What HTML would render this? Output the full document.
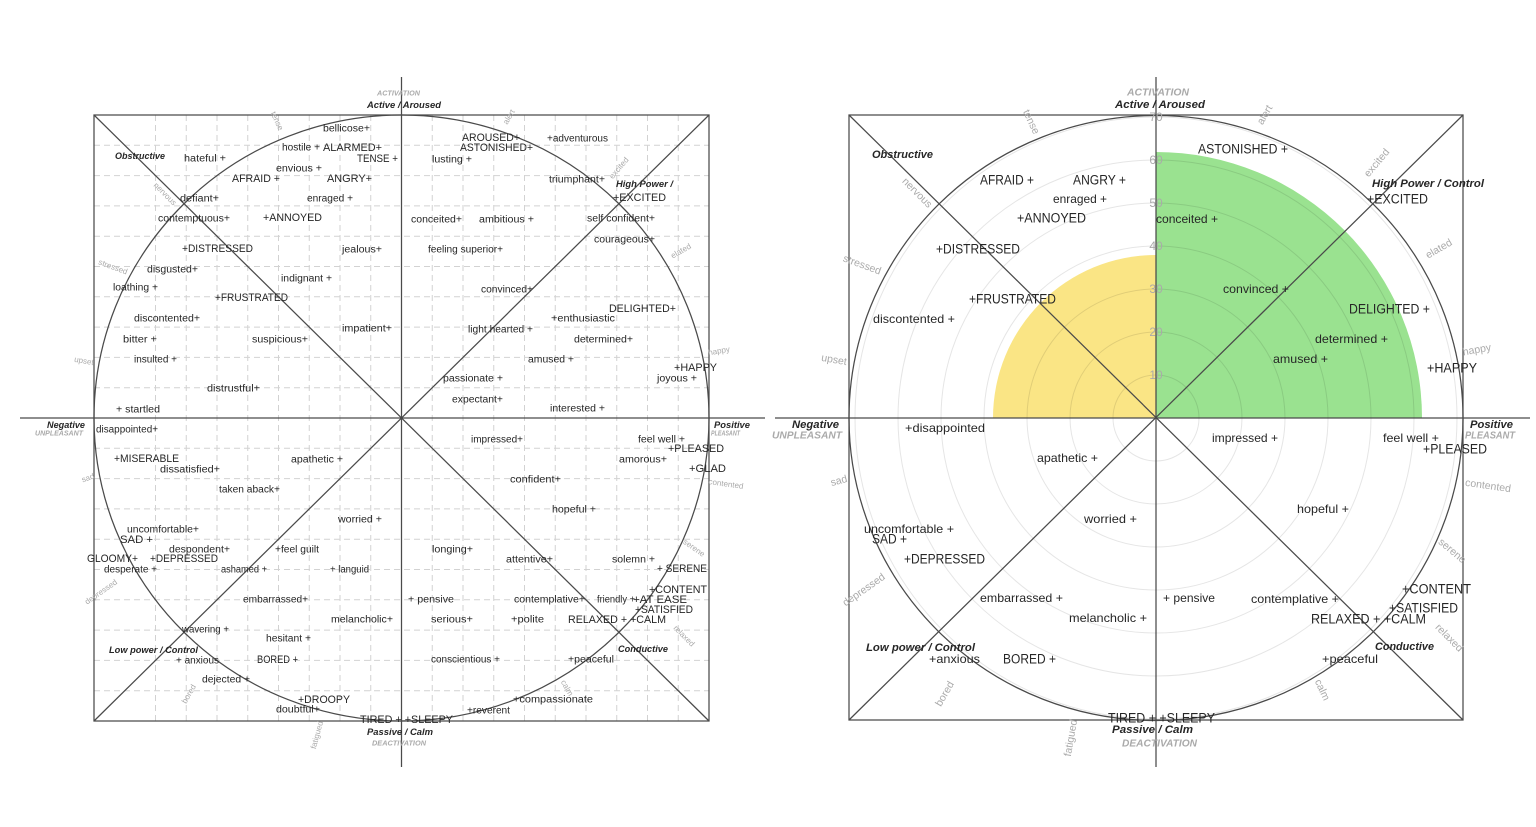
<!DOCTYPE html>
<html><head><meta charset="utf-8"><style>
html,body{margin:0;padding:0;background:#fff;}
svg{display:block;}
text{font-family:"Liberation Sans",sans-serif;fill:#262626;}
.l{font-size:10px;}
.c{font-size:11px;}
.rl{font-size:12px;}
.rc{font-size:13.5px;}
.g{fill:#aaa;font-size:8px;}
.rg{fill:#aaa;font-size:10.5px;}
.h{font-weight:bold;font-style:italic;}
.gh{font-weight:bold;font-style:italic;fill:#aaa;}
</style></head><body>
<svg width="1536" height="827" viewBox="0 0 1536 827" xmlns="http://www.w3.org/2000/svg">
<rect width="1536" height="827" fill="#fff"/>

<!-- ============ LEFT CHART ============ -->
<g stroke="#d2d2d2" stroke-width="1" stroke-dasharray="6 4" fill="none">
<line x1="155.5" y1="115" x2="155.5" y2="721"/>
<line x1="186.25" y1="115" x2="186.25" y2="721"/>
<line x1="217" y1="115" x2="217" y2="721"/>
<line x1="247.75" y1="115" x2="247.75" y2="721"/>
<line x1="278.5" y1="115" x2="278.5" y2="721"/>
<line x1="309.25" y1="115" x2="309.25" y2="721"/>
<line x1="340" y1="115" x2="340" y2="721"/>
<line x1="370.75" y1="115" x2="370.75" y2="721"/>
<line x1="432.25" y1="115" x2="432.25" y2="721"/>
<line x1="463" y1="115" x2="463" y2="721"/>
<line x1="493.75" y1="115" x2="493.75" y2="721"/>
<line x1="524.5" y1="115" x2="524.5" y2="721"/>
<line x1="555.25" y1="115" x2="555.25" y2="721"/>
<line x1="586" y1="115" x2="586" y2="721"/>
<line x1="616.75" y1="115" x2="616.75" y2="721"/>
<line x1="647.5" y1="115" x2="647.5" y2="721"/>
<line x1="678.25" y1="115" x2="678.25" y2="721"/>
<line x1="94" y1="145.3" x2="709" y2="145.3"/>
<line x1="94" y1="175.6" x2="709" y2="175.6"/>
<line x1="94" y1="205.9" x2="709" y2="205.9"/>
<line x1="94" y1="236.2" x2="709" y2="236.2"/>
<line x1="94" y1="266.5" x2="709" y2="266.5"/>
<line x1="94" y1="296.8" x2="709" y2="296.8"/>
<line x1="94" y1="327.1" x2="709" y2="327.1"/>
<line x1="94" y1="357.4" x2="709" y2="357.4"/>
<line x1="94" y1="387.7" x2="709" y2="387.7"/>
<line x1="94" y1="448.3" x2="709" y2="448.3"/>
<line x1="94" y1="478.6" x2="709" y2="478.6"/>
<line x1="94" y1="508.9" x2="709" y2="508.9"/>
<line x1="94" y1="539.2" x2="709" y2="539.2"/>
<line x1="94" y1="569.5" x2="709" y2="569.5"/>
<line x1="94" y1="599.8" x2="709" y2="599.8"/>
<line x1="94" y1="630.1" x2="709" y2="630.1"/>
<line x1="94" y1="660.4" x2="709" y2="660.4"/>
<line x1="94" y1="690.7" x2="709" y2="690.7"/>
</g>
<g stroke="#4a4a4a" stroke-width="1.25" fill="none">
<rect x="94" y="115" width="615" height="606"/>
<line x1="20" y1="418" x2="765" y2="418"/>
<line x1="401.5" y1="77" x2="401.5" y2="767"/>
<line x1="94" y1="115" x2="709" y2="721"/>
<line x1="709" y1="115" x2="94" y2="721"/>
<ellipse cx="401.5" cy="418" rx="307.5" ry="303"/>
</g>

<g dominant-baseline="central">
<text class="gh" x="377" y="94" font-size="7" textLength="43" lengthAdjust="spacingAndGlyphs">ACTIVATION</text>
<text class="h" x="367" y="105" font-size="9" textLength="74" lengthAdjust="spacingAndGlyphs">Active / Aroused</text>
<text class="h" x="367" y="732" font-size="9" textLength="66" lengthAdjust="spacingAndGlyphs">Passive / Calm</text>
<text class="gh" x="372" y="744" font-size="7" textLength="54" lengthAdjust="spacingAndGlyphs">DEACTIVATION</text>
<text class="h" x="47" y="425" font-size="9" textLength="38" lengthAdjust="spacingAndGlyphs">Negative</text>
<text class="gh" x="35" y="434" font-size="7" textLength="48" lengthAdjust="spacingAndGlyphs">UNPLEASANT</text>
<text class="h" x="714" y="425" font-size="9" textLength="36" lengthAdjust="spacingAndGlyphs">Positive</text>
<text class="gh" x="711" y="434" font-size="7" textLength="29" lengthAdjust="spacingAndGlyphs">PLEASANT</text>
<text class="h" x="115" y="156" font-size="9" textLength="50" lengthAdjust="spacingAndGlyphs">Obstructive</text>
<text class="h" x="616" y="184" font-size="9" textLength="57" lengthAdjust="spacingAndGlyphs">High Power /</text>
<text class="h" x="109" y="650" font-size="9" textLength="89" lengthAdjust="spacingAndGlyphs">Low power / Control</text>
<text class="h" x="618" y="649" font-size="9" textLength="50" lengthAdjust="spacingAndGlyphs">Conductive</text>
</g>

<g class="g" text-anchor="middle" dominant-baseline="central">
<text class="g" transform="rotate(65 277 121)" x="277" y="121">tense</text>
<text class="g" transform="rotate(45 165 194)" x="165" y="194">nervous</text>
<text class="g" transform="rotate(20 113 267)" x="113" y="267">stressed</text>
<text class="g" transform="rotate(10 84 361)" x="84" y="361">upset</text>
<text class="g" transform="rotate(-60 509 117)" x="509" y="117">alert</text>
<text class="g" transform="rotate(-50 619 168)" x="619" y="168">excited</text>
<text class="g" transform="rotate(-30 681 251)" x="681" y="251">elated</text>
<text class="g" transform="rotate(-10 719 351)" x="719" y="351">happy</text>
<text class="g" transform="rotate(-20 88 478)" x="88" y="478">sad</text>
<text class="g" transform="rotate(8 726 484)" x="726" y="484">contented</text>
<text class="g" transform="rotate(35 694 548)" x="694" y="548">serene</text>
<text class="g" transform="rotate(-35 101 592)" x="101" y="592">depressed</text>
<text class="g" transform="rotate(45 684 636)" x="684" y="636">relaxed</text>
<text class="g" transform="rotate(-60 189 694)" x="189" y="694">bored</text>
<text class="g" transform="rotate(60 567 688)" x="567" y="688">calm</text>
<text class="g" transform="rotate(-75 317 735)" x="317" y="735">fatigued</text>
</g>

<g dominant-baseline="central">
<text class="l" x="323" y="129" textLength="47" lengthAdjust="spacingAndGlyphs">bellicose+</text>
<text class="l" x="282" y="148" textLength="38" lengthAdjust="spacingAndGlyphs">hostile +</text>
<text class="c" x="323" y="148" textLength="59" lengthAdjust="spacingAndGlyphs">ALARMED+</text>
<text class="c" x="357" y="159" textLength="41" lengthAdjust="spacingAndGlyphs">TENSE +</text>
<text class="l" x="184" y="159" textLength="42" lengthAdjust="spacingAndGlyphs">hateful +</text>
<text class="l" x="276" y="169" textLength="46" lengthAdjust="spacingAndGlyphs">envious +</text>
<text class="c" x="232" y="179" textLength="48" lengthAdjust="spacingAndGlyphs">AFRAID +</text>
<text class="c" x="327" y="179" textLength="45" lengthAdjust="spacingAndGlyphs">ANGRY+</text>
<text class="l" x="180" y="199" textLength="39" lengthAdjust="spacingAndGlyphs">defiant+</text>
<text class="l" x="307" y="199" textLength="46" lengthAdjust="spacingAndGlyphs">enraged +</text>
<text class="l" x="158" y="219" textLength="72" lengthAdjust="spacingAndGlyphs">contemptuous+</text>
<text class="c" x="263" y="218" textLength="59" lengthAdjust="spacingAndGlyphs">+ANNOYED</text>
<text class="c" x="182" y="249" textLength="71" lengthAdjust="spacingAndGlyphs">+DISTRESSED</text>
<text class="l" x="342" y="250" textLength="40" lengthAdjust="spacingAndGlyphs">jealous+</text>
<text class="l" x="147" y="270" textLength="51" lengthAdjust="spacingAndGlyphs">disgusted+</text>
<text class="l" x="281" y="279" textLength="51" lengthAdjust="spacingAndGlyphs">indignant +</text>
<text class="l" x="113" y="288" textLength="45" lengthAdjust="spacingAndGlyphs">loathing +</text>
<text class="c" x="215" y="298" textLength="73" lengthAdjust="spacingAndGlyphs">+FRUSTRATED</text>
<text class="l" x="134" y="319" textLength="66" lengthAdjust="spacingAndGlyphs">discontented+</text>
<text class="l" x="342" y="329" textLength="50" lengthAdjust="spacingAndGlyphs">impatient+</text>
<text class="l" x="123" y="340" textLength="34" lengthAdjust="spacingAndGlyphs">bitter +</text>
<text class="l" x="252" y="340" textLength="56" lengthAdjust="spacingAndGlyphs">suspicious+</text>
<text class="l" x="134" y="360" textLength="43" lengthAdjust="spacingAndGlyphs">insulted +</text>
<text class="l" x="207" y="389" textLength="53" lengthAdjust="spacingAndGlyphs">distrustful+</text>
<text class="l" x="116" y="410" textLength="44" lengthAdjust="spacingAndGlyphs">+ startled</text>
<text class="c" x="462" y="138" textLength="58" lengthAdjust="spacingAndGlyphs">AROUSED+</text>
<text class="c" x="460" y="148" textLength="73" lengthAdjust="spacingAndGlyphs">ASTONISHED+</text>
<text class="l" x="547" y="139" textLength="61" lengthAdjust="spacingAndGlyphs">+adventurous</text>
<text class="l" x="432" y="160" textLength="40" lengthAdjust="spacingAndGlyphs">lusting +</text>
<text class="l" x="549" y="180" textLength="56" lengthAdjust="spacingAndGlyphs">triumphant+</text>
<text class="c" x="613" y="198" textLength="53" lengthAdjust="spacingAndGlyphs">+EXCITED</text>
<text class="l" x="411" y="220" textLength="51" lengthAdjust="spacingAndGlyphs">conceited+</text>
<text class="l" x="479" y="220" textLength="55" lengthAdjust="spacingAndGlyphs">ambitious +</text>
<text class="l" x="587" y="219" textLength="68" lengthAdjust="spacingAndGlyphs">self confident+</text>
<text class="l" x="594" y="240" textLength="61" lengthAdjust="spacingAndGlyphs">courageous+</text>
<text class="l" x="428" y="250" textLength="75" lengthAdjust="spacingAndGlyphs">feeling superior+</text>
<text class="l" x="481" y="290" textLength="52" lengthAdjust="spacingAndGlyphs">convinced+</text>
<text class="c" x="609" y="309" textLength="67" lengthAdjust="spacingAndGlyphs">DELIGHTED+</text>
<text class="l" x="551" y="319" textLength="64" lengthAdjust="spacingAndGlyphs">+enthusiastic</text>
<text class="l" x="468" y="330" textLength="65" lengthAdjust="spacingAndGlyphs">light hearted +</text>
<text class="l" x="574" y="340" textLength="59" lengthAdjust="spacingAndGlyphs">determined+</text>
<text class="l" x="528" y="360" textLength="46" lengthAdjust="spacingAndGlyphs">amused +</text>
<text class="c" x="674" y="368" textLength="43" lengthAdjust="spacingAndGlyphs">+HAPPY</text>
<text class="l" x="657" y="379" textLength="40" lengthAdjust="spacingAndGlyphs">joyous +</text>
<text class="l" x="443" y="379" textLength="60" lengthAdjust="spacingAndGlyphs">passionate +</text>
<text class="l" x="452" y="400" textLength="51" lengthAdjust="spacingAndGlyphs">expectant+</text>
<text class="l" x="550" y="409" textLength="55" lengthAdjust="spacingAndGlyphs">interested +</text>
<text class="l" x="96" y="430" textLength="62" lengthAdjust="spacingAndGlyphs">disappointed+</text>
<text class="c" x="114" y="459" textLength="65" lengthAdjust="spacingAndGlyphs">+MISERABLE</text>
<text class="l" x="291" y="460" textLength="52" lengthAdjust="spacingAndGlyphs">apathetic +</text>
<text class="l" x="160" y="470" textLength="60" lengthAdjust="spacingAndGlyphs">dissatisfied+</text>
<text class="l" x="219" y="490" textLength="61" lengthAdjust="spacingAndGlyphs">taken aback+</text>
<text class="l" x="338" y="520" textLength="44" lengthAdjust="spacingAndGlyphs">worried +</text>
<text class="l" x="127" y="530" textLength="72" lengthAdjust="spacingAndGlyphs">uncomfortable+</text>
<text class="c" x="120" y="540" textLength="33" lengthAdjust="spacingAndGlyphs">SAD +</text>
<text class="l" x="169" y="550" textLength="61" lengthAdjust="spacingAndGlyphs">despondent+</text>
<text class="l" x="275" y="550" textLength="44" lengthAdjust="spacingAndGlyphs">+feel guilt</text>
<text class="c" x="87" y="559" textLength="51" lengthAdjust="spacingAndGlyphs">GLOOMY+</text>
<text class="c" x="150" y="559" textLength="68" lengthAdjust="spacingAndGlyphs">+DEPRESSED</text>
<text class="l" x="104" y="570" textLength="53" lengthAdjust="spacingAndGlyphs">desperate +</text>
<text class="l" x="221" y="570" textLength="46" lengthAdjust="spacingAndGlyphs">ashamed +</text>
<text class="l" x="330" y="570" textLength="39" lengthAdjust="spacingAndGlyphs">+ languid</text>
<text class="l" x="243" y="600" textLength="65" lengthAdjust="spacingAndGlyphs">embarrassed+</text>
<text class="l" x="331" y="620" textLength="62" lengthAdjust="spacingAndGlyphs">melancholic+</text>
<text class="l" x="182" y="630" textLength="47" lengthAdjust="spacingAndGlyphs">wavering +</text>
<text class="l" x="266" y="639" textLength="45" lengthAdjust="spacingAndGlyphs">hesitant +</text>
<text class="l" x="176" y="661" textLength="43" lengthAdjust="spacingAndGlyphs">+ anxious</text>
<text class="c" x="257" y="660" textLength="41" lengthAdjust="spacingAndGlyphs">BORED +</text>
<text class="l" x="202" y="680" textLength="48" lengthAdjust="spacingAndGlyphs">dejected +</text>
<text class="c" x="298" y="700" textLength="52" lengthAdjust="spacingAndGlyphs">+DROOPY</text>
<text class="l" x="276" y="710" textLength="44" lengthAdjust="spacingAndGlyphs">doubtful+</text>
<text class="c" x="360" y="720" textLength="93" lengthAdjust="spacingAndGlyphs">TIRED + +SLEEPY</text>
<text class="l" x="471" y="440" textLength="52" lengthAdjust="spacingAndGlyphs">impressed+</text>
<text class="l" x="638" y="440" textLength="47" lengthAdjust="spacingAndGlyphs">feel well +</text>
<text class="c" x="668" y="449" textLength="56" lengthAdjust="spacingAndGlyphs">+PLEASED</text>
<text class="l" x="619" y="460" textLength="48" lengthAdjust="spacingAndGlyphs">amorous+</text>
<text class="c" x="689" y="469" textLength="37" lengthAdjust="spacingAndGlyphs">+GLAD</text>
<text class="l" x="510" y="480" textLength="51" lengthAdjust="spacingAndGlyphs">confident+</text>
<text class="l" x="552" y="510" textLength="44" lengthAdjust="spacingAndGlyphs">hopeful +</text>
<text class="l" x="432" y="550" textLength="41" lengthAdjust="spacingAndGlyphs">longing+</text>
<text class="l" x="506" y="560" textLength="47" lengthAdjust="spacingAndGlyphs">attentive+</text>
<text class="l" x="612" y="560" textLength="43" lengthAdjust="spacingAndGlyphs">solemn +</text>
<text class="c" x="657" y="569" textLength="50" lengthAdjust="spacingAndGlyphs">+ SERENE</text>
<text class="c" x="649" y="590" textLength="58" lengthAdjust="spacingAndGlyphs">+CONTENT</text>
<text class="l" x="408" y="600" textLength="46" lengthAdjust="spacingAndGlyphs">+ pensive</text>
<text class="l" x="514" y="600" textLength="71" lengthAdjust="spacingAndGlyphs">contemplative+</text>
<text class="l" x="597" y="600" textLength="38" lengthAdjust="spacingAndGlyphs">friendly +</text>
<text class="c" x="633" y="600" textLength="54" lengthAdjust="spacingAndGlyphs">+AT EASE</text>
<text class="c" x="635" y="610" textLength="58" lengthAdjust="spacingAndGlyphs">+SATISFIED</text>
<text class="l" x="431" y="620" textLength="42" lengthAdjust="spacingAndGlyphs">serious+</text>
<text class="l" x="511" y="620" textLength="33" lengthAdjust="spacingAndGlyphs">+polite</text>
<text class="c" x="568" y="620" textLength="98" lengthAdjust="spacingAndGlyphs">RELAXED + +CALM</text>
<text class="l" x="431" y="660" textLength="69" lengthAdjust="spacingAndGlyphs">conscientious +</text>
<text class="l" x="568" y="660" textLength="46" lengthAdjust="spacingAndGlyphs">+peaceful</text>
<text class="l" x="513" y="700" textLength="80" lengthAdjust="spacingAndGlyphs">+compassionate</text>
<text class="l" x="467" y="711" textLength="43" lengthAdjust="spacingAndGlyphs">+reverent</text>
</g>

<!-- ============ RIGHT CHART ============ -->
<path d="M1156,418 L1422,418 A266,266 0 0 0 1156,152 Z" fill="#9ae290"/>
<path d="M1156,418 L1156,255 A163,163 0 0 0 993,418 Z" fill="#fae585"/>
<g fill="none" stroke="rgba(0,0,0,0.10)" stroke-width="1">
<circle cx="1156" cy="418" r="43"/>
<circle cx="1156" cy="418" r="86"/>
<circle cx="1156" cy="418" r="129"/>
<circle cx="1156" cy="418" r="172"/>
<circle cx="1156" cy="418" r="215"/>
<circle cx="1156" cy="418" r="258"/>
<circle cx="1156" cy="418" r="301"/>
</g>
<g stroke="#4a4a4a" stroke-width="1.25" fill="none">
<rect x="849" y="115" width="614" height="605"/>
<line x1="775" y1="418" x2="1530" y2="418"/>
<line x1="1156" y1="77" x2="1156" y2="767"/>
<line x1="849" y1="115" x2="1463" y2="720"/>
<line x1="1463" y1="115" x2="849" y2="720"/>
<ellipse cx="1156" cy="418" rx="307" ry="302.5"/>
</g>

<g text-anchor="middle" dominant-baseline="central" font-size="12">
<text x="1156" y="117" style="fill:#aaa">70</text>
<text x="1156" y="160" style="fill:#aaa">60</text>
<text x="1156" y="203" style="fill:#aaa">50</text>
<text x="1156" y="246" style="fill:#aaa">40</text>
<text x="1156" y="289" style="fill:#aaa">30</text>
<text x="1156" y="332" style="fill:#aaa">20</text>
<text x="1156" y="375" style="fill:#aaa">10</text>
</g>

<g dominant-baseline="central">
<text class="gh" x="1127" y="93" font-size="10" textLength="62" lengthAdjust="spacingAndGlyphs">ACTIVATION</text>
<text class="h" x="1115" y="105" font-size="11" textLength="90" lengthAdjust="spacingAndGlyphs">Active / Aroused</text>
<text class="h" x="1112" y="730" font-size="11" textLength="81" lengthAdjust="spacingAndGlyphs">Passive / Calm</text>
<text class="gh" x="1122" y="744" font-size="10" textLength="75" lengthAdjust="spacingAndGlyphs">DEACTIVATION</text>
<text class="h" x="792" y="425" font-size="11" textLength="47" lengthAdjust="spacingAndGlyphs">Negative</text>
<text class="gh" x="772" y="436" font-size="10" textLength="70" lengthAdjust="spacingAndGlyphs">UNPLEASANT</text>
<text class="h" x="1470" y="425" font-size="11" textLength="43" lengthAdjust="spacingAndGlyphs">Positive</text>
<text class="gh" x="1465" y="436" font-size="10" textLength="50" lengthAdjust="spacingAndGlyphs">PLEASANT</text>
<text class="h" x="872" y="155" font-size="11" textLength="61" lengthAdjust="spacingAndGlyphs">Obstructive</text>
<text class="h" x="1372" y="184" font-size="11" textLength="112" lengthAdjust="spacingAndGlyphs">High Power / Control</text>
<text class="h" x="866" y="648" font-size="11" textLength="109" lengthAdjust="spacingAndGlyphs">Low power / Control</text>
<text class="h" x="1375" y="647" font-size="11" textLength="59" lengthAdjust="spacingAndGlyphs">Conductive</text>
</g>

<g text-anchor="middle" dominant-baseline="central">
<text class="rg" transform="rotate(65 1031 122)" x="1031" y="122">tense</text>
<text class="rg" transform="rotate(45 917 193)" x="917" y="193">nervous</text>
<text class="rg" transform="rotate(20 862 265)" x="862" y="265">stressed</text>
<text class="rg" transform="rotate(10 834 360)" x="834" y="360">upset</text>
<text class="rg" transform="rotate(-60 1265 115)" x="1265" y="115">alert</text>
<text class="rg" transform="rotate(-50 1377 163)" x="1377" y="163">excited</text>
<text class="rg" transform="rotate(-30 1439 249)" x="1439" y="249">elated</text>
<text class="rg" transform="rotate(-10 1477 350)" x="1477" y="350">happy</text>
<text class="rg" transform="rotate(-15 839 481)" x="839" y="481">sad</text>
<text class="rg" transform="rotate(8 1488 486)" x="1488" y="486">contented</text>
<text class="rg" transform="rotate(40 1452 551)" x="1452" y="551">serene</text>
<text class="rg" transform="rotate(-35 864 590)" x="864" y="590">depressed</text>
<text class="rg" transform="rotate(45 1449 638)" x="1449" y="638">relaxed</text>
<text class="rg" transform="rotate(-60 945 694)" x="945" y="694">bored</text>
<text class="rg" transform="rotate(65 1322 690)" x="1322" y="690">calm</text>
<text class="rg" transform="rotate(-80 1071 738)" x="1071" y="738">fatigued</text>
</g>

<g dominant-baseline="central">
<text class="rc" x="1198" y="149" textLength="90" lengthAdjust="spacingAndGlyphs">ASTONISHED +</text>
<text class="rc" x="1367" y="199" textLength="61" lengthAdjust="spacingAndGlyphs">+EXCITED</text>
<text class="rc" x="980" y="180" textLength="54" lengthAdjust="spacingAndGlyphs">AFRAID +</text>
<text class="rc" x="1073" y="180" textLength="53" lengthAdjust="spacingAndGlyphs">ANGRY +</text>
<text class="rl" x="1053" y="199" textLength="54" lengthAdjust="spacingAndGlyphs">enraged +</text>
<text class="rc" x="1017" y="218" textLength="69" lengthAdjust="spacingAndGlyphs">+ANNOYED</text>
<text class="rl" x="1156" y="219" textLength="62" lengthAdjust="spacingAndGlyphs">conceited +</text>
<text class="rc" x="936" y="249" textLength="84" lengthAdjust="spacingAndGlyphs">+DISTRESSED</text>
<text class="rc" x="969" y="299" textLength="87" lengthAdjust="spacingAndGlyphs">+FRUSTRATED</text>
<text class="rl" x="1223" y="289" textLength="66" lengthAdjust="spacingAndGlyphs">convinced +</text>
<text class="rl" x="873" y="319" textLength="82" lengthAdjust="spacingAndGlyphs">discontented +</text>
<text class="rc" x="1349" y="309" textLength="81" lengthAdjust="spacingAndGlyphs">DELIGHTED +</text>
<text class="rl" x="1315" y="339" textLength="73" lengthAdjust="spacingAndGlyphs">determined +</text>
<text class="rl" x="1273" y="359" textLength="55" lengthAdjust="spacingAndGlyphs">amused +</text>
<text class="rc" x="1427" y="368" textLength="50" lengthAdjust="spacingAndGlyphs">+HAPPY</text>
<text class="rl" x="905" y="428" textLength="80" lengthAdjust="spacingAndGlyphs">+disappointed</text>
<text class="rl" x="1212" y="438" textLength="66" lengthAdjust="spacingAndGlyphs">impressed +</text>
<text class="rl" x="1383" y="438" textLength="56" lengthAdjust="spacingAndGlyphs">feel well +</text>
<text class="rc" x="1423" y="449" textLength="64" lengthAdjust="spacingAndGlyphs">+PLEASED</text>
<text class="rl" x="1037" y="458" textLength="61" lengthAdjust="spacingAndGlyphs">apathetic +</text>
<text class="rl" x="1297" y="509" textLength="52" lengthAdjust="spacingAndGlyphs">hopeful +</text>
<text class="rl" x="1084" y="519" textLength="53" lengthAdjust="spacingAndGlyphs">worried +</text>
<text class="rl" x="864" y="529" textLength="90" lengthAdjust="spacingAndGlyphs">uncomfortable +</text>
<text class="rc" x="872" y="539" textLength="35" lengthAdjust="spacingAndGlyphs">SAD +</text>
<text class="rc" x="904" y="559" textLength="81" lengthAdjust="spacingAndGlyphs">+DEPRESSED</text>
<text class="rc" x="1402" y="589" textLength="69" lengthAdjust="spacingAndGlyphs">+CONTENT</text>
<text class="rl" x="980" y="598" textLength="83" lengthAdjust="spacingAndGlyphs">embarrassed +</text>
<text class="rl" x="1163" y="598" textLength="52" lengthAdjust="spacingAndGlyphs">+ pensive</text>
<text class="rl" x="1251" y="599" textLength="88" lengthAdjust="spacingAndGlyphs">contemplative +</text>
<text class="rc" x="1389" y="608" textLength="69" lengthAdjust="spacingAndGlyphs">+SATISFIED</text>
<text class="rl" x="1069" y="618" textLength="78" lengthAdjust="spacingAndGlyphs">melancholic +</text>
<text class="rc" x="1311" y="619" textLength="115" lengthAdjust="spacingAndGlyphs">RELAXED + +CALM</text>
<text class="rl" x="929" y="659" textLength="51" lengthAdjust="spacingAndGlyphs">+anxious</text>
<text class="rc" x="1003" y="659" textLength="53" lengthAdjust="spacingAndGlyphs">BORED +</text>
<text class="rl" x="1322" y="659" textLength="56" lengthAdjust="spacingAndGlyphs">+peaceful</text>
<text class="rc" x="1108" y="718" textLength="107" lengthAdjust="spacingAndGlyphs">TIRED + +SLEEPY</text>
</g>
</svg>
</body></html>
